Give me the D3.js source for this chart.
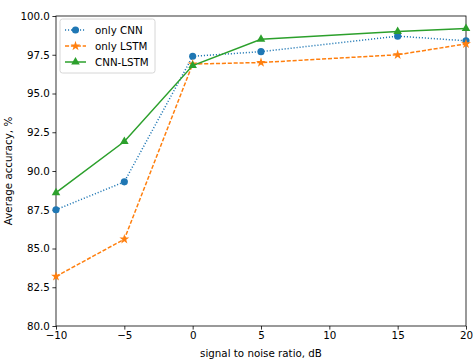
<!DOCTYPE html>
<html>
<head>
<meta charset="utf-8">
<script src="https://cdn.jsdelivr.net/npm/d3@7"></script>
<style>
  body { margin: 0; background: #fff; }
  svg { display: block; font-family: "DejaVu Sans", sans-serif; }
</style>
</head>
<body>
<div id="grafiek"></div>
<script>
// SNR waarden (x-as)
const snr = [-10, -5, 0, 5, 15, 20];
const onlyCNN = [87.5, 89.3, 97.4, 97.7, 98.7, 98.4];
const onlyLSTM = [83.2, 85.6, 96.9, 97.0, 97.5, 98.2];
const cnnLSTM = [88.6, 91.9, 96.8, 98.5, 99.0, 99.2];
const xTicks = [-10, -5, 0, 5, 10, 15, 20];
const yTicks = [80, 82.5, 85, 87.5, 90, 92.5, 95, 97.5, 100];

const series = [
  { name: "only CNN", values: onlyCNN, color: "#1f77b4", dash: "1.1,1.9", marker: "circle" },
  { name: "only LSTM", values: onlyLSTM, color: "#ff7f0e", dash: "4.1,1.8", marker: "star" },
  { name: "CNN-LSTM", values: cnnLSTM, color: "#2ca02c", dash: null, marker: "triangle" },
];

const width = 474, height = 362;
const margin = { top: 16, right: 8, bottom: 36, left: 56 };

const svg = d3.select("#grafiek").append("svg")
  .attr("width", width).attr("height", height);

const x = d3.scaleLinear().domain([-10, 20]).range([margin.left, width - margin.right]);
const y = d3.scaleLinear().domain([80, 100]).range([height - margin.bottom, margin.top]);

// assen
const fs = "10.3px";
const gx = svg.append("g")
  .attr("transform", `translate(0,${height - margin.bottom})`)
  .call(d3.axisBottom(x).tickValues(xTicks).tickSize(3.6).tickPadding(2.5)
    .tickFormat(d => d < 0 ? "\u2212" + Math.abs(d) : d));
const gy = svg.append("g")
  .attr("transform", `translate(${margin.left},0)`)
  .call(d3.axisLeft(y).tickValues(yTicks).tickSize(3.6).tickPadding(2.5)
    .tickFormat(d3.format(".1f")));
[gx, gy].forEach(g => {
  g.select(".domain").remove();
  g.selectAll("text").attr("font-size", fs).attr("font-family", "DejaVu Sans").attr("fill", "#000");
  g.selectAll("line").attr("stroke", "#000").attr("stroke-width", 0.8);
});

// kader
svg.append("rect")
  .attr("x", x(-10)).attr("y", y(100))
  .attr("width", x(20) - x(-10)).attr("height", y(80) - y(100))
  .attr("fill", "none").attr("stroke", "#000").attr("stroke-width", 0.8);

// labels
svg.append("text")
  .attr("x", (x(-10) + x(20)) / 2).attr("y", 357)
  .attr("text-anchor", "middle").attr("font-size", fs)
  .text("signal to noise ratio, dB");
svg.append("text")
  .attr("transform", `translate(12,${(y(80) + y(100)) / 2}) rotate(-90)`)
  .attr("text-anchor", "middle").attr("font-size", fs)
  .text("Average accuracy, %");

const markerPath = {
  circle: d3.symbol(d3.symbolCircle, 40)(),
  star: d3.symbol(d3.symbolStar, 30)(),
  triangle: d3.symbol(d3.symbolTriangle, 32)(),
};

const line = d3.line().x((d, i) => x(snr[i])).y(d => y(d));

series.forEach(s => {
  const g = svg.append("g");
  g.append("path")
    .attr("d", line(s.values))
    .attr("fill", "none").attr("stroke", s.color).attr("stroke-width", 1.5)
    .attr("stroke-dasharray", s.dash);
  g.selectAll("path.m").data(s.values).join("path")
    .attr("class", "m")
    .attr("transform", (d, i) => `translate(${x(snr[i])},${y(d)})`)
    .attr("d", markerPath[s.marker])
    .attr("fill", s.color);
});

// legenda
const lg = svg.append("g").attr("transform", "translate(60,19)");
lg.append("rect")
  .attr("width", 95).attr("height", 54).attr("rx", 2.5)
  .attr("fill", "#fff").attr("fill-opacity", 0.8)
  .attr("stroke", "#ccc").attr("stroke-width", 0.8);
series.forEach((s, i) => {
  const yy = 11 + i * 16;
  lg.append("line")
    .attr("x1", 5).attr("x2", 26).attr("y1", yy).attr("y2", yy)
    .attr("stroke", s.color).attr("stroke-width", 1.5)
    .attr("stroke-dasharray", s.dash);
  lg.append("path")
    .attr("transform", `translate(15.5,${yy})`)
    .attr("d", markerPath[s.marker]).attr("fill", s.color);
  lg.append("text")
    .attr("x", 35).attr("y", yy).attr("dy", "0.35em")
    .attr("font-size", fs).text(s.name);
});
</script>
</body>
</html>
